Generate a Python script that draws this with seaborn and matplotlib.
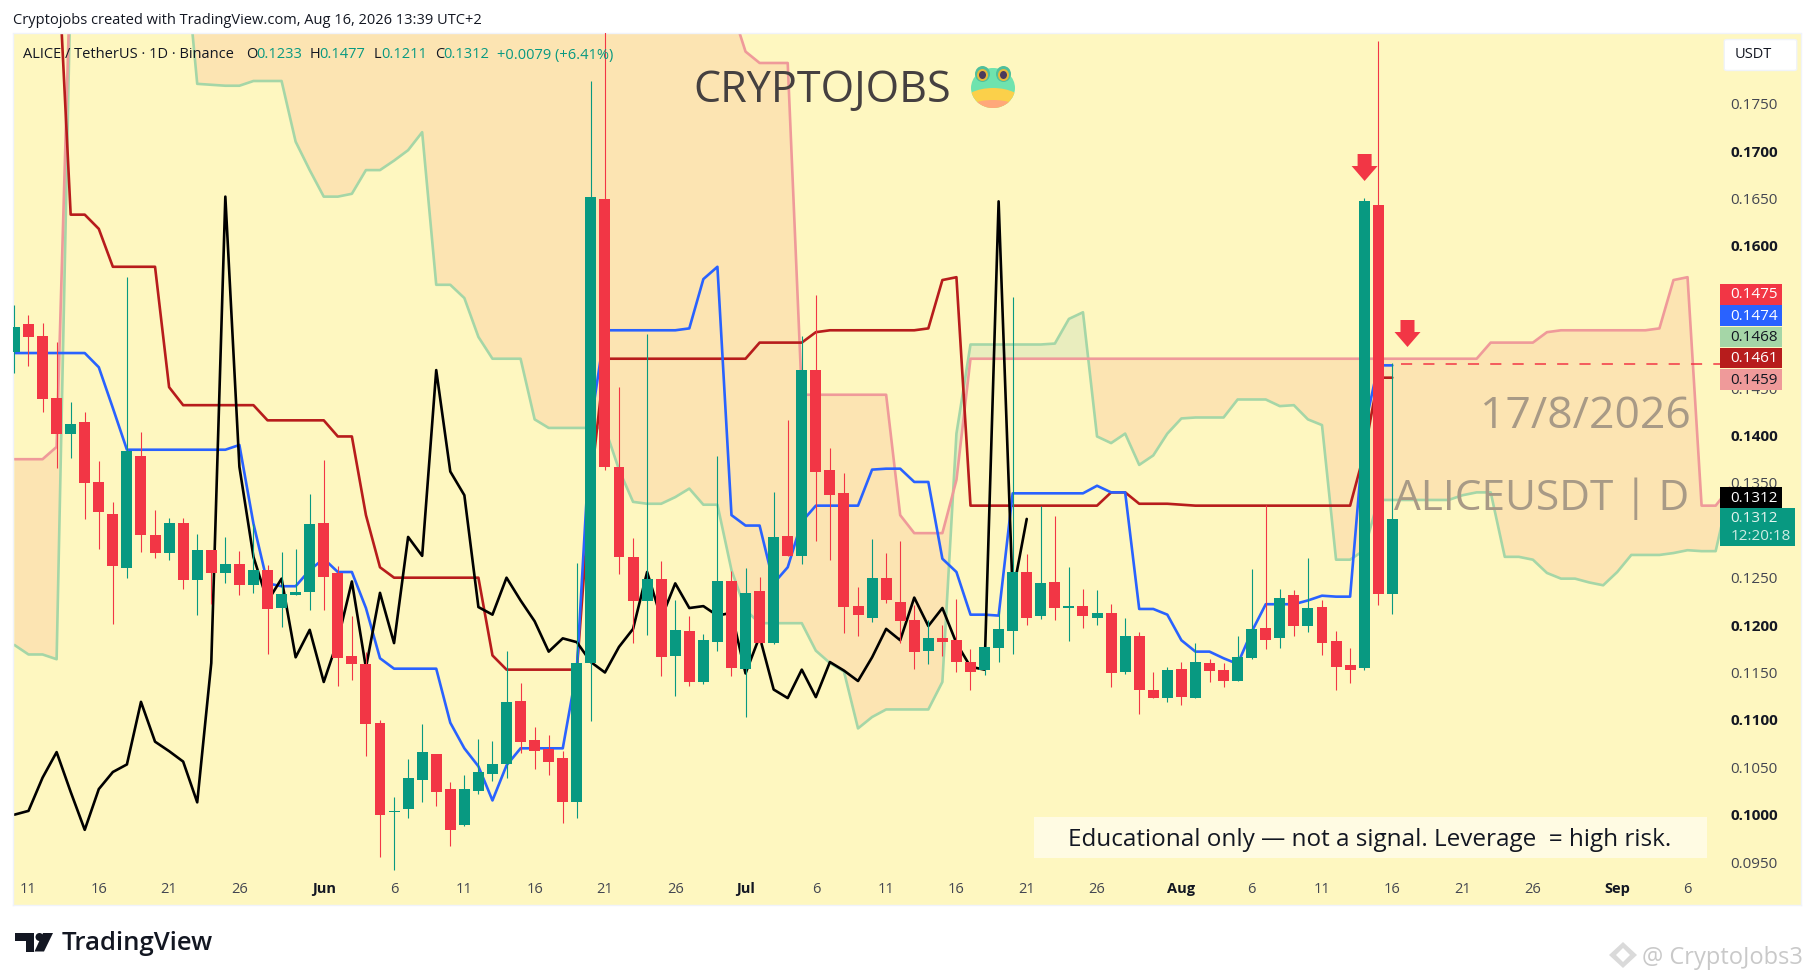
import numpy as np
import matplotlib
matplotlib.use('Agg')
import matplotlib.pyplot as plt
from matplotlib.patches import Ellipse, Polygon, Rectangle, FancyBboxPatch
import seaborn as sns

# ── values, in 1/10000 USDT ──────────────────────────────────
candle_open = [1488, 1518, 1505, 1440, 1402, 1414, 1351, 1317, 1260, 1378, 1295, 1276, 1308, 1248, 1279, 1255, 1264, 1242, 1258, 1218,
               1232, 1235, 1308, 1255, 1167, 1159, 1097, 1003, 1006, 1037, 1064, 1027, 989, 1025, 1043, 1053, 1120, 1079, 1069, 1060,
               1013, 1160, 1649, 1367, 1272, 1225, 1249, 1167, 1194, 1140, 1182, 1246, 1154, 1236, 1181, 1294, 1273, 1469, 1364, 1339,
               1220, 1208, 1250, 1224, 1205, 1173, 1186, 1184, 1161, 1153, 1176, 1194, 1256, 1210, 1245, 1218, 1220, 1208, 1213, 1151,
               1188, 1132, 1123, 1154, 1123, 1160, 1153, 1141, 1165, 1197, 1186, 1232, 1199, 1219, 1183, 1158, 1155, 1643, 1233]
candle_close = [1514, 1504, 1439, 1402, 1412, 1350, 1319, 1262, 1384, 1295, 1276, 1308, 1248, 1279, 1255, 1264, 1242, 1258, 1217, 1233,
                1235, 1307, 1251, 1165, 1159, 1096, 1000, 1004, 1039, 1066, 1024, 984, 1027, 1045, 1053, 1119, 1077, 1067, 1056, 1013,
                1160, 1652, 1367, 1272, 1225, 1249, 1166, 1195, 1140, 1184, 1246, 1155, 1234, 1181, 1293, 1273, 1469, 1362, 1337, 1219,
                1211, 1250, 1226, 1204, 1172, 1186, 1182, 1161, 1150, 1177, 1196, 1256, 1207, 1244, 1218, 1220, 1210, 1213, 1149, 1188,
                1132, 1123, 1153, 1124, 1161, 1152, 1141, 1166, 1196, 1184, 1229, 1199, 1218, 1181, 1156, 1153, 1647, 1233, 1312]
candle_high = [1538, 1527, 1519, 1499, 1435, 1425, 1373, 1330, 1567, 1404, 1321, 1313, 1313, 1296, 1279, 1293, 1278, 1307, 1263, 1277,
               1280, 1338, 1374, 1262, 1210, 1172, 1100, 1019, 1059, 1096, 1064, 1034, 1042, 1080, 1078, 1173, 1139, 1092, 1084, 1067,
               1265, 1774, 1830, 1451, 1292, 1507, 1268, 1226, 1210, 1191, 1378, 1257, 1260, 1251, 1340, 1416, 1505, 1548, 1387, 1360,
               1240, 1291, 1276, 1289, 1221, 1205, 1200, 1228, 1175, 1177, 1216, 1546, 1275, 1326, 1315, 1261, 1238, 1237, 1222, 1207,
               1193, 1150, 1156, 1161, 1181, 1164, 1160, 1188, 1259, 1327, 1238, 1237, 1271, 1226, 1194, 1176, 1651, 1816, 1477]
candle_low = [1466, 1473, 1425, 1366, 1376, 1312, 1280, 1201, 1250, 1277, 1271, 1269, 1238, 1211, 1222, 1244, 1232, 1234, 1169, 1198,
              1232, 1216, 1216, 1136, 1142, 1062, 955, 942, 996, 1013, 1009, 967, 988, 1022, 1035, 1039, 1065, 1048, 1042, 991,
              996, 1099, 1364, 1254, 1181, 1190, 1146, 1125, 1136, 1138, 1173, 1146, 1103, 1181, 1180, 1273, 1264, 1289, 1269, 1192,
              1188, 1203, 1223, 1181, 1154, 1159, 1167, 1151, 1131, 1147, 1161, 1170, 1200, 1206, 1205, 1183, 1197, 1200, 1135, 1148,
              1106, 1123, 1119, 1116, 1123, 1140, 1135, 1141, 1164, 1175, 1176, 1188, 1193, 1168, 1132, 1139, 1153, 1221, 1212]

conversion_line = [1487, 1487, 1487, 1487, 1487, 1487, 1472, 1429, 1385, 1385, 1385, 1385, 1385, 1385, 1385, 1385, 1390, 1307, 1244, 1241,
                   1241, 1258, 1270, 1256, 1256, 1218, 1165, 1154, 1154, 1154, 1154, 1097, 1070, 1051, 1015, 1052, 1070, 1070, 1070, 1070,
                   1153, 1413, 1511, 1511, 1511, 1511, 1511, 1511, 1513, 1565, 1578, 1316, 1305, 1305, 1244, 1261, 1309, 1326, 1326, 1326,
                   1326, 1364, 1365, 1365, 1351, 1351, 1270, 1256, 1211, 1211, 1210, 1339, 1339, 1339, 1339, 1339, 1339, 1347, 1340, 1340,
                   1217, 1217, 1211, 1184, 1172, 1172, 1165, 1159, 1193, 1222, 1222, 1222, 1226, 1231, 1230, 1230, 1406, 1474, 1474]
base_line = [1950, 1950, 1950, 1934, 1633, 1633, 1618, 1578, 1578, 1578, 1578, 1451, 1432, 1432, 1432, 1432, 1432, 1432, 1416, 1416,
             1416, 1416, 1416, 1399, 1399, 1316, 1261, 1250, 1250, 1250, 1250, 1250, 1250, 1250, 1168, 1153, 1153, 1153, 1153, 1153,
             1153, 1350, 1481, 1481, 1481, 1481, 1481, 1481, 1481, 1481, 1481, 1481, 1481, 1498, 1498, 1498, 1498, 1509, 1511, 1511,
             1511, 1511, 1511, 1511, 1511, 1513, 1564, 1567, 1326, 1326, 1326, 1326, 1326, 1326, 1326, 1326, 1326, 1326, 1340, 1340,
             1328, 1328, 1328, 1327, 1326, 1326, 1326, 1326, 1326, 1326, 1326, 1326, 1326, 1326, 1326, 1326, 1381, 1461, 1461]

# leading spans run on past the last candle, values above 0.1824 are off the chart
span_pink = [1375, 1375, 1375, 1388, 1900, 1900, 1900, 1900, 1900, 1900, 1900, 1900, 1900, 1900, 1900, 1900, 1900, 1900, 1900, 1900,
             1900, 1900, 1900, 1900, 1900, 1900, 1900, 1900, 1900, 1900, 1900, 1900, 1900, 1900, 1900, 1900, 1900, 1900, 1900, 1900,
             1900, 1900, 1900, 1900, 1900, 1900, 1900, 1900, 1900, 1900, 1900, 1851, 1805, 1793, 1793, 1793, 1443, 1443, 1443, 1443,
             1443, 1443, 1443, 1316, 1297, 1297, 1297, 1353, 1481, 1481, 1481, 1481, 1481, 1481, 1481, 1481, 1481, 1481, 1481, 1481,
             1481, 1481, 1481, 1481, 1481, 1481, 1481, 1481, 1481, 1481, 1481, 1481, 1481, 1481, 1481, 1481, 1481, 1481, 1481, 1481,
             1481, 1481, 1481, 1481, 1481, 1498, 1498, 1498, 1498, 1509, 1511, 1511, 1511, 1511, 1511, 1511, 1511, 1513, 1564, 1567,
             1326, 1326, 1345]
span_green = [1179, 1169, 1169, 1164, 1880, 1890, 1890, 1890, 1890, 1890, 1890, 1890, 1930, 1771, 1770, 1769, 1769, 1774, 1774, 1774,
              1710, 1680, 1652, 1652, 1655, 1680, 1680, 1690, 1701, 1720, 1559, 1559, 1545, 1504, 1481, 1481, 1481, 1417, 1408, 1408,
              1408, 1408, 1408, 1364, 1330, 1328, 1328, 1335, 1344, 1327, 1327, 1258, 1216, 1202, 1202, 1202, 1202, 1173, 1160, 1151,
              1091, 1103, 1111, 1111, 1111, 1111, 1140, 1402, 1496, 1496, 1496, 1496, 1496, 1496, 1497, 1523, 1530, 1399, 1392, 1402,
              1369, 1379, 1402, 1418, 1419, 1419, 1419, 1438, 1438, 1438, 1431, 1432, 1417, 1411, 1269, 1269, 1279, 1332, 1332, 1332,
              1332, 1332, 1332, 1337, 1340, 1340, 1272, 1272, 1269, 1255, 1249, 1249, 1245, 1242, 1256, 1274, 1274, 1274, 1276, 1279,
              1278, 1278, 1343]

x_tick_days = [0, 5, 10, 15, 21, 26, 31, 36, 41, 46, 51, 56, 61, 66, 71, 76, 82, 87, 92, 97, 102, 107, 113, 118]
x_tick_labels = ['11', '16', '21', '26', 'Jun', '6', '11', '16', '21', '26', 'Jul', '6', '11', '16', '21', '26', 'Aug',
                 '6', '11', '16', '21', '26', 'Sep', '6']
# 0.1300 and 0.1500 are hidden behind the price labels in the original
y_ticks = [0.095, 0.100, 0.105, 0.110, 0.115, 0.120, 0.125, 0.135, 0.140, 0.145, 0.160, 0.165, 0.170, 0.175]
last_price_line = 0.1475
lag_bars = 26

# ── colours ──────────────────────────────────────────────────
UP = '#089981'
DOWN = '#F23645'
BG = '#FEF7C0'
INK = '#131722'
SOFT_INK = '#434651'
WATERMARK = '#A89A86'
W, H = 1814, 980
FONT = 'Open Sans'


def fx(px):
    return px / W


def fy(py):
    return 1 - py / H


def fig_box(x0, y0, x1, y1, color, z=5):
    fig.add_artist(Rectangle((fx(x0), fy(y1)), (x1 - x0) / W, (y1 - y0) / H, transform=fig.transFigure,
                             facecolor=color, edgecolor='none', zorder=z))


def fig_poly(points, color, z=5):
    pts = [(fx(a), fy(b)) for a, b in points]
    fig.add_artist(Polygon(pts, closed=True, transform=fig.transFigure, facecolor=color, edgecolor='none', zorder=z))


def fig_oval(cx, cy, w, h, color, z=6, clip=None):
    oval = Ellipse((fx(cx), fy(cy)), w / W, h / H, transform=fig.transFigure, facecolor=color, edgecolor='none', zorder=z)
    fig.add_artist(oval)
    if clip is not None:
        oval.set_clip_path(clip)
    return oval


# ── set up ───────────────────────────────────────────────────
sns.set_theme(style='white')
plt.rcParams['font.family'] = [FONT, 'DejaVu Sans']

fig = plt.figure(figsize=(W / 100, H / 100), dpi=100, facecolor='white')
ax = fig.add_axes([12.5 / W, 1 - 905 / H, (1801 - 12.5) / W, (905 - 33.5) / H])
ax.set_facecolor(BG)

days = np.arange(-1, 98)
span_days = np.arange(-1, 122)
opens = np.array(candle_open) / 10000
closes = np.array(candle_close) / 10000
highs = np.array(candle_high) / 10000
lows = np.array(candle_low) / 10000
pink = np.array(span_pink) / 10000
green = np.array(span_green) / 10000

# cloud
ax.fill_between(span_days, pink, green, where=pink >= green, interpolate=True, color='#FCE4B2', linewidth=0, zorder=1)
ax.fill_between(span_days, pink, green, where=pink <= green, interpolate=True, color='#E9EDBE', linewidth=0, zorder=1)

# ichimoku lines
sns.lineplot(x=span_days, y=green, color='#A5D6A7', linewidth=1.9, errorbar=None, ax=ax, zorder=2)
sns.lineplot(x=span_days, y=pink, color='#EF9A9A', linewidth=1.9, errorbar=None, ax=ax, zorder=2)
sns.lineplot(x=days, y=np.array(base_line) / 10000, color='#B71C1C', linewidth=1.9, errorbar=None, ax=ax, zorder=2.1)
sns.lineplot(x=days, y=np.array(conversion_line) / 10000, color='#2962FF', linewidth=1.9, errorbar=None, ax=ax, zorder=2.1)
sns.lineplot(x=days[:-lag_bars], y=closes[lag_bars:], color='black', linewidth=1.9, errorbar=None, ax=ax, zorder=2.2)

# candles
colors = [UP if c >= o else DOWN for o, c in zip(opens, closes)]
ax.vlines(days, lows, highs, colors=colors, linewidth=0.8, zorder=3)
ax.bar(days, np.abs(closes - opens), bottom=np.minimum(opens, closes), width=0.78, color=colors, linewidth=0, zorder=3.1)

# last price dashed line
ax.hlines(last_price_line, 97.6, 122, colors=DOWN, linewidth=1.1, linestyles=(0, (7.3, 7.3)), zorder=3)

ax.set_xlim(-1.138, 126.07)
ax.set_ylim(0.09047, 0.18241)

# ── axes and ticks ───────────────────────────────────────────
ax.set_xlabel('')
ax.set_ylabel('')
ax.grid(False)
ax.set_xticks(x_tick_days)
ax.set_xticklabels(x_tick_labels)
ax.set_yticks(y_ticks)
ax.set_yticklabels([f'{t:.4f}' for t in y_ticks])
ax.yaxis.tick_right()
ax.tick_params(axis='x', length=0, pad=-16.5, labelsize=10.5, labelcolor=SOFT_INK)
ax.tick_params(axis='y', length=0, pad=-51, labelsize=11, labelcolor=SOFT_INK)
for lab in ax.get_xticklabels():
    if lab.get_text().isalpha():
        lab.set_fontweight('bold')
        lab.set_color(INK)
for tick, lab in zip(y_ticks, ax.get_yticklabels()):
    lab.set_ha('left')
    if round(tick * 10000) % 100 == 0:
        lab.set_fontweight('bold')
        lab.set_color(INK)
for side in ax.spines.values():
    side.set_color('#F0F3FA')
    side.set_linewidth(1)

# ── text on the chart ────────────────────────────────────────
fig.text(fx(13), fy(21), 'Cryptojobs created with TradingView.com, Aug 16, 2026 13:39 UTC+2',
         fontsize=10.5, color=INK, va='center', zorder=8)

legend_parts = [(23, 'ALICE / TetherUS · 1D · Binance', INK), (246, 'O', INK), (256, '0.1233', UP), (310, 'H', INK), (319.5, '0.1477', UP),
                (374, 'L', INK), (381.6, '0.1211', UP), (435, 'C', INK), (443.6, '0.1312', UP), (497.4, '+0.0079 (+6.41%)', UP)]
for lx, part, col in legend_parts:
    fig.text(fx(lx), fy(55), part, fontsize=10.5, color=col, va='center', zorder=8)

fig.text(fx(693), fy(91), 'CRYPTOJOBS', fontsize=31, color='#454040', va='center', zorder=8)
fig.text(fx(1480), fy(417), '17/8/2026', fontsize=32, color=WATERMARK, va='center', zorder=4)
fig.text(fx(1394), fy(499), 'ALICEUSDT | D', fontsize=30.5, color=WATERMARK, va='center', zorder=4)

fig_box(1034, 817, 1707, 858, '#FFFBE3', z=4)
fig.text(fx(1068), fy(840), 'Educational only — not a signal. Leverage  = high risk.', fontsize=17.5, color=INK, va='center', zorder=8)

# frog next to the title
face = fig_oval(993, 88, 44, 40, '#6FE3AE')
fig_oval(993, 103, 60, 30, '#FBD04A', clip=face)
fig_oval(993, 113, 60, 26, '#FFA87A', clip=face)
for ex in (982.5, 1003.5):
    fig_oval(ex, 74, 15, 16, '#4FBF9C', z=7)
    fig_oval(ex, 75, 11, 12, '#E8B93A', z=7.1)
    fig_oval(ex, 75, 7, 8, '#4A3B5C', z=7.2)

# red arrows
for ax_mid, top in ((1364.6, 154), (1407.5, 320)):
    fig_poly([(ax_mid - 7, top), (ax_mid + 7, top), (ax_mid + 7, top + 12), (ax_mid + 13, top + 12), (ax_mid, top + 27),
              (ax_mid - 13, top + 12), (ax_mid - 7, top + 12)], DOWN)

# USDT box
fig.add_artist(FancyBboxPatch((fx(1727), fy(69)), 67 / W, 28 / H, boxstyle='round,pad=0.0015', transform=fig.transFigure,
                              facecolor='white', edgecolor='#F0F3FA', zorder=5))
fig.text(fx(1735), fy(55), 'USDT', fontsize=10.5, color=INK, va='center', zorder=8)

# price labels on the right
price_labels = [(284, 305, '0.1475', DOWN, 'white'), (305, 326, '0.1474', '#2962FF', 'white'), (326.5, 347, '0.1468', '#A5D6A7', INK),
                (348, 368, '0.1461', '#B71C1C', 'white'), (369, 390, '0.1459', '#EF9A9A', INK), (487, 508, '0.1312', 'black', 'white')]
for y0, y1, label, bg, fg in price_labels:
    fig_box(1720, y0, 1782, y1, bg)
    fig.text(fx(1730.5), fy((y0 + y1) / 2 + 0.5), label, fontsize=11, color=fg, va='center', zorder=8)
fig_box(1720, 508, 1795, 546, UP)
fig.text(fx(1730.5), fy(519), '0.1312', fontsize=11, color='#E3F5EF', va='center', zorder=8)
fig.text(fx(1730.5), fy(536), '12:20:18', fontsize=11, color='#CDECE3', va='center', zorder=8)

# ── footer ───────────────────────────────────────────────────
fig_poly([(15, 933), (34, 933), (34, 951.5), (26, 951.5), (26, 941), (15, 941)], '#131722')
fig_oval(39.5, 937, 8, 8, '#131722')
fig_poly([(43, 933), (53, 933), (44, 951.5), (34.5, 951.5)], '#131722')
fig.text(fx(62), fy(943), 'TradingView', fontsize=18.5, fontweight='semibold', color='#131722', va='center', zorder=8)

fig_poly([(1623, 942), (1637, 955), (1623, 968), (1609, 955)], '#DADADA')
fig_poly([(1623, 948), (1630, 955), (1623, 962), (1616, 955)], 'white', z=5.1)
fig.text(fx(1642), fy(958), '@ CryptoJobs3', fontsize=17, color='#C9C9C9', va='center', zorder=8)

plt.savefig('out.png', dpi=100)
plt.close()
